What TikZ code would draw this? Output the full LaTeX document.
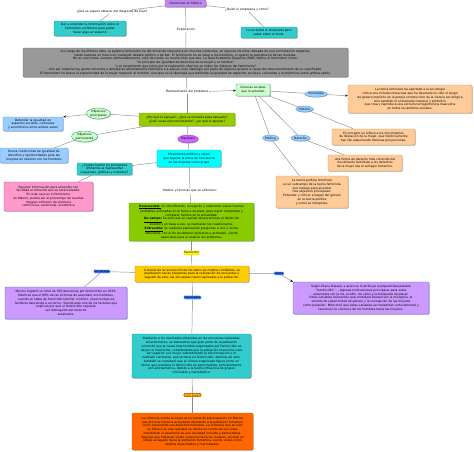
\documentclass[tikz,border=0pt]{standalone}
\usepackage{fontspec}
\setmainfont{DejaVu Sans}
\usetikzlibrary{shapes.geometric,shadows,arrows.meta}
\newcommand\ftiny{\fontsize{3}{3.75}\selectfont}
\newcommand\fsmall{\fontsize{3.1}{3.6}\selectfont}
\definecolor{cTop}{HTML}{C08CF0}
\definecolor{cTopD}{HTML}{8A4CC8}
\definecolor{cTeal}{HTML}{33CCCC}
\definecolor{cTealD}{HTML}{119999}
\definecolor{cGray}{HTML}{999999}
\definecolor{cGrayD}{HTML}{666666}
\definecolor{cOlive}{HTML}{99CC00}
\definecolor{cOliveD}{HTML}{669900}
\definecolor{cLGreen}{HTML}{CCFFCC}
\definecolor{cLGreenD}{HTML}{33AA77}
\definecolor{cLBlue}{HTML}{99CCFF}
\definecolor{cLBlueD}{HTML}{6699CC}
\definecolor{cHip}{HTML}{CC66FF}
\definecolor{cCyan}{HTML}{00FFFF}
\definecolor{cCyanD}{HTML}{00BBBB}
\definecolor{cPink}{HTML}{FF99CC}
\definecolor{cPinkD}{HTML}{CC3399}
\definecolor{cPeach}{HTML}{FFCC99}
\definecolor{cPeachD}{HTML}{CC9966}
\definecolor{cGreen}{HTML}{88CC00}
\definecolor{cGreenD}{HTML}{55AA00}
\definecolor{cYellow}{HTML}{FFFF00}
\definecolor{cGold}{HTML}{FFCC00}
\definecolor{cGoldD}{HTML}{CC9900}
\definecolor{cPurple}{HTML}{CC99FF}
\definecolor{cPurpleD}{HTML}{3366FF}
\definecolor{cBlueLbl}{HTML}{3366FF}
\definecolor{cBlueLblD}{HTML}{66CCFF}
\definecolor{cOrange}{HTML}{FF6600}
\definecolor{cOrangeD}{HTML}{CC6600}
\definecolor{cLine}{HTML}{8C8C8C}
\begin{document}
\begin{tikzpicture}[x=1pt,y=-1pt,
  box/.style={draw, rounded corners=1.2pt, align=center, inner sep=0.6pt, line width=0.4pt, font=\ftiny,
    drop shadow={shadow xshift=0.7pt, shadow yshift=-0.7pt, opacity=0.35, fill=black}},
  oval/.style={ellipse, draw, align=center, inner sep=0.3pt, line width=0.4pt, font=\ftiny,
    drop shadow={shadow xshift=0.6pt, shadow yshift=-0.6pt, opacity=0.3, fill=black}},
  lbl/.style={align=center, inner sep=0.6pt, font=\ftiny},
  tag/.style={draw, rounded corners=0.8pt, inner sep=0.4pt, line width=0.4pt, font=\ftiny},
  conn/.style={draw=cLine, line width=0.45pt},
  arr/.style={conn, -{Stealth[length=2.6pt,width=2.2pt,color=black]}}]
\path[use as bounding box] (0,0) rectangle (474,451);

% top level
\node[box, fill=cTop, draw=cTopD, minimum width=41, minimum height=7] (top) at (185.5,3.5) {Feminismo en México};
\node[lbl] (q1) at (112,12) {¿Qué se espera obtener del diagrama de flujo?};
\node[lbl] (q2) at (247,10) {¿Quién lo emplearía y cómo?};
\node[box, fill=cTeal, draw=cTealD, minimum width=72, minimum height=15] (cyanL) at (90,28.5)
  {Dar a entender la información sobre el\\feminismo en México para poder\\hacer algo al respecto};
\node[box, fill=cTeal, draw=cTealD, minimum width=56, minimum height=11] (cyanR) at (269,32.5)
  {La sociedad lo emplearía para\\saber sobre el tema.};
\node[lbl] (expl) at (186,30) {Exploración};
\node[box, fill=cGray, draw=cGrayD, minimum width=325, minimum height=29, font=\fsmall] (gray) at (185.5,62.5)
  {A lo largo de los últimos años, la palabra feminismo ha ido tomando relevancia en muchos contextos, en algunos de ellos rodeada de una connotación negativa,\\
   hasta hacerse un hueco en cualquier debate político o de bar. El feminismo no es odiar a los hombres, ni querer la supremacía de las mujeres.\\
   No es una moda, aunque afortunadamente, está de moda, es mucho más que eso. La Real Academia Española (RAE) define el feminismo como:\\
   “el principio de igualdad de derechos de la mujer y el hombre”\\
   “y el movimiento que lucha por la realización efectiva en todos los órdenes del feminismo”\\
   Aún así, todavía hay gente reticente a declararse abiertamente feminista o a apoyar esta ideología por parte de algunos grupos a causa del desconocimiento de su significado.\\
   El feminismo no busca la superioridad de la mujer respecto al hombre, sino que es la ideología que defiende la igualdad en aspectos sociales, culturales y económicos entre ambos sexos.};

\draw[conn] (top) -- (q1);
\draw[conn] (q1) -- (cyanL);
\draw[conn] (top) -- (q2);
\draw[conn] (q2) -- (cyanR);
\draw[conn] (top) -- (expl);
\draw[conn] (expl) -- (gray);

% problem
\node[lbl] (plan) at (187,92) {Planteamiento del problema};
\node[box, fill=cLGreen, draw=cLGreenD, minimum width=34, minimum height=12] (cien) at (253,90)
  {Ciencias sociales\\que lo estudian};
\node[box, fill=cOlive, draw=cOliveD, minimum width=96, minimum height=13] (gq) at (187,119.5)
  {¿Por qué lo apoyan?, ¿Qué se necesita para apoyarlo?\\¿Qué causa este movimiento?, ¿en qué lo apoyan?};
\draw[conn] (gray) -- (plan);
\draw[arr] (plan) -- (cien);
\draw[conn] (plan) -- (gq);

% objectives
\node[oval, fill=cLGreen, draw=cLGreenD, minimum width=23, minimum height=11] (op) at (98.5,113.5) {Objetivos\\principales};
\node[box, fill=cLBlue, draw=cLBlueD, minimum width=60, minimum height=14] (def) at (33,124)
  {Defender la igualdad en\\aspectos sociales, culturales\\y económicos entre ambos sexos};
\node[oval, fill=cLGreen, draw=cLGreenD, minimum width=25, minimum height=11] (opa) at (84.5,136.5) {Objetivos\\particulares};
\node[box, fill=cLBlue, draw=cLBlueD, minimum width=68, minimum height=15] (bus) at (34,155.5)
  {Busca condiciones de igualdad de\\derechos y oportunidades para las\\mujeres en relación con los hombres};
\draw[conn] (gq) -- (op);
\draw[arr] (op) -- (def.north east);
\draw[conn] (gq) -- (opa);
\draw[conn] (opa) -- (bus);

% hypothesis
\node[oval, fill=cHip, draw=cTopD, minimum width=18, minimum height=8] (hip) at (188,139) {Hipótesis};
\node[box, fill=cCyan, draw=cCyanD, minimum width=64, minimum height=17] (mov) at (189,158.5)
  {Movimiento político y social\\que supone la toma de conciencia\\de las mujeres como grupo};
\node[box, fill=cTeal, draw=cTealD, minimum width=55, minimum height=12] (cua) at (104.5,169)
  {¿ Cuáles fueron los principales\\limitantes al representar\\esquemas, gráficas y métodos?};
\node[box, fill=cPink, draw=cPinkD, minimum width=89, minimum height=29] (pink) at (48.5,196.5)
  {Resumir información para entender con\\facilidad el tema del que se está tratando.\\En este caso es el feminismo\\en México, podría ser el porcentaje de cuantas\\mujeres sufrieron de violencia\\como física, emocional, económica};
\draw[conn] (gq) -- (hip);
\draw[conn] (hip) -- (mov);
\draw[conn] (mov) -- (cua);
\draw[conn] (cua) -- (pink);

% social sciences
\node[oval, fill=cLBlue, draw=cLBlueD, minimum width=20, minimum height=6] (soc) at (316,94) {Sociología};
\node[oval, fill=cLBlue, draw=cLBlueD, minimum width=15, minimum height=6] (his) at (304.5,109) {Historia};
\node[oval, fill=cLBlue, draw=cLBlueD, minimum width=15, minimum height=6] (der) at (300.5,138) {Derecho};
\node[oval, fill=cLBlue, draw=cLBlueD, minimum width=15, minimum height=6] (pol) at (270.5,138) {Política};
\node[box, fill=cPeach, draw=cPeachD, minimum width=124, minimum height=28] (or1) at (410,99)
  {La teoría feminista ha aportado a la sociología\\crítica una mirada intelectual que ha develado no sólo el sesgo\\de género implícito en la propia construcción de la ciencia sociológica\\sino también el entramado material y simbólico\\que crea y reproduce una estructura hegemónica masculina\\en todos los ámbitos sociales.};
\node[box, fill=cPeach, draw=cPeachD, minimum width=83, minimum height=16] (or2) at (373.5,137)
  {El concepto se refiere a los movimientos\\de liberación de la mujer, que históricamente\\han ido adquiriendo diversas proyecciones.};
\node[box, fill=cPeach, draw=cPeachD, minimum width=74, minimum height=16] (or3) at (365,163)
  {una forma de derecho más conocido del\\movimiento feminista a los derechos\\de la mujer sea el sufragio femenino.};
\node[box, fill=cPeach, draw=cPeachD, minimum width=72, minimum height=32] (or4) at (312,192)
  {La teoría política feminista\\es un subcampo de la teoría feminista\\que trabaja para alcanzar\\tres objetivos principales:\\Entender y criticar el papel del género\\en la teoría política\\y como se interpreta.};
\draw[conn] (cien) -- (soc);
\draw[arr] (soc) -- (or1);
\draw[conn] (cien) -- (his);
\draw[conn] (his) -- (or2);
\draw[conn] (cien) -- (der);
\draw[conn] (der) -- (or3);
\draw[conn] (cien) -- (pol);
\draw[conn] (pol) -- (or4);

% methods
\node[lbl] (medl) at (190,191) {Medios y técnicas que se utilizaron:};
\node[box, fill=cGreen, draw=cGreenD, minimum width=125, minimum height=38] (med) at (191.5,222)
  {\underline{\textbf{Documental:}} Se identificarán, recogerán y analizarán varias fuentes\\confiables enfocadas en el tema a analizar, para lograr comprobar y\\comparar hechos en la actualidad.\\
   \underline{\textbf{De campo:}} Se enfocará en realizar observaciones al objeto de\\estudio y en base a eso, se realizarán los cuestionarios.\\
   \underline{\textbf{Entrevista:}} Se realizará planteando preguntas a uno o varios\\individuos, con el fin de obtener opiniones y actitudes, siendo\\esenciales para el análisis del problema.};
\draw[conn] (mov) -- (medl);
\draw[conn] (medl) -- (med);

% execution
\node[tag, fill=cYellow, draw=cGold] (eje) at (191.5,253) {Ejecución};
\node[box, fill=cGold, draw=cGoldD, minimum width=114, minimum height=16] (gold) at (192,274)
  {A través de la recolección de los datos en medios confiables, se\\plantearon varias preguntas para la realización de encuestas y\\seguido de esto, las encuestas fueron aplicadas a la población.};
\draw[conn] (med) -- (eje);
\draw[conn] (eje) -- (gold);

\node[tag, fill=cBlueLbl, draw=cBlueLblD] (enc) at (102,271.5) {Encuestas};
\node[tag, fill=cBlueLbl, draw=cBlueLblD] (dat) at (279,273.5) {Datos};
\node[tag, fill=cBlueLbl, draw=cBlueLblD] (res) at (192.5,297.5) {Resultados};
\node[box, fill=cPurple, draw=cPurpleD, minimum width=122, minimum height=32] (purL) at (66,303)
  {México registró un total de 976 denuncias por feminicidio en 2019.\\Mientras que el 80\% de las víctimas de asesinato son hombres,\\cuando se habla de homicidio familiar o íntimo, el porcentaje de\\hombres desciende a un tercio. Siendo este uno de los factores que\\explican por qué el feminicidio requiere\\ser distinguido del resto de\\asesinatos.};
\node[box, fill=cPurple, draw=cPurpleD, minimum width=136, minimum height=32] (purR) at (361,298)
  {Según Diana Russell, a quien se le atribuye la popularidad palabra\\“feminicidio”…, algunas motivaciones principales para estos\\asesinatos son la ira, el odio, los celos y la búsqueda de placer.\\Otras variables relevantes que considera Russell son la misoginia, el\\sentido de superioridad de género y la concepción de las mujeres\\como posesión. Mencionó que estas variables se transmiten culturalmente y\\favorecen la violencia de los hombres hacia las mujeres.};
\draw[conn] (gold) -- (enc);
\draw[conn] (enc) -- (purL);
\draw[conn] (gold) -- (dat);
\draw[arr] (dat) -- (purR.north west);
\draw[conn] (gold) -- (res);

% results
\node[box, fill=cTeal, draw=cTealD, minimum width=119, minimum height=44] (tb) at (191.5,356)
  {Mediante a los resultados obtenidos en las encuestas realizadas\\anteriormente, se demuestra que gran parte de la población\\concordó que la causa más factible responsable del Feminicidio se\\da por el machismo, considerando que la población masculina cree\\ser superior a la mujer, subordinando la discriminación y el\\maltrato constante, que termina en feminicidio. Además de esto,\\también se consideró que el crimen organizado figura como un\\factor que ocasiona el feminicidio en gran medida, principalmente\\en Centroamérica, debido a la fuerte influencia de grupos\\criminales y narcotráfico.};
\draw[conn] (res) -- (tb);

\node[tag, fill=cYellow, draw=red] (con) at (192.5,395) {Conclusión};
\node[box, fill=cOrange, draw=cOrangeD, minimum width=121, minimum height=37] (fin) at (192.5,431.5)
  {La violencia contra la mujer es un tema de preocupación en México\\que provoca hasta la actualidad afectando a la población femenina\\como vulnerando sus derechos humanos. La violencia que se vive\\en México es una realidad, se atenta en contra de sus vidas\\impidiendo el desarrollo de una sociedad incluida y democrática.\\Algunas que hubiesen vivido violencia hacia las mujeres, existirá un\\reflejo arraigado hacia la población femenina, siendo vistas como\\objetos desechables y mal tratados.};
\draw[conn] (tb) -- (con);
\draw[conn] (con) -- (fin);
\end{tikzpicture}
\end{document}
